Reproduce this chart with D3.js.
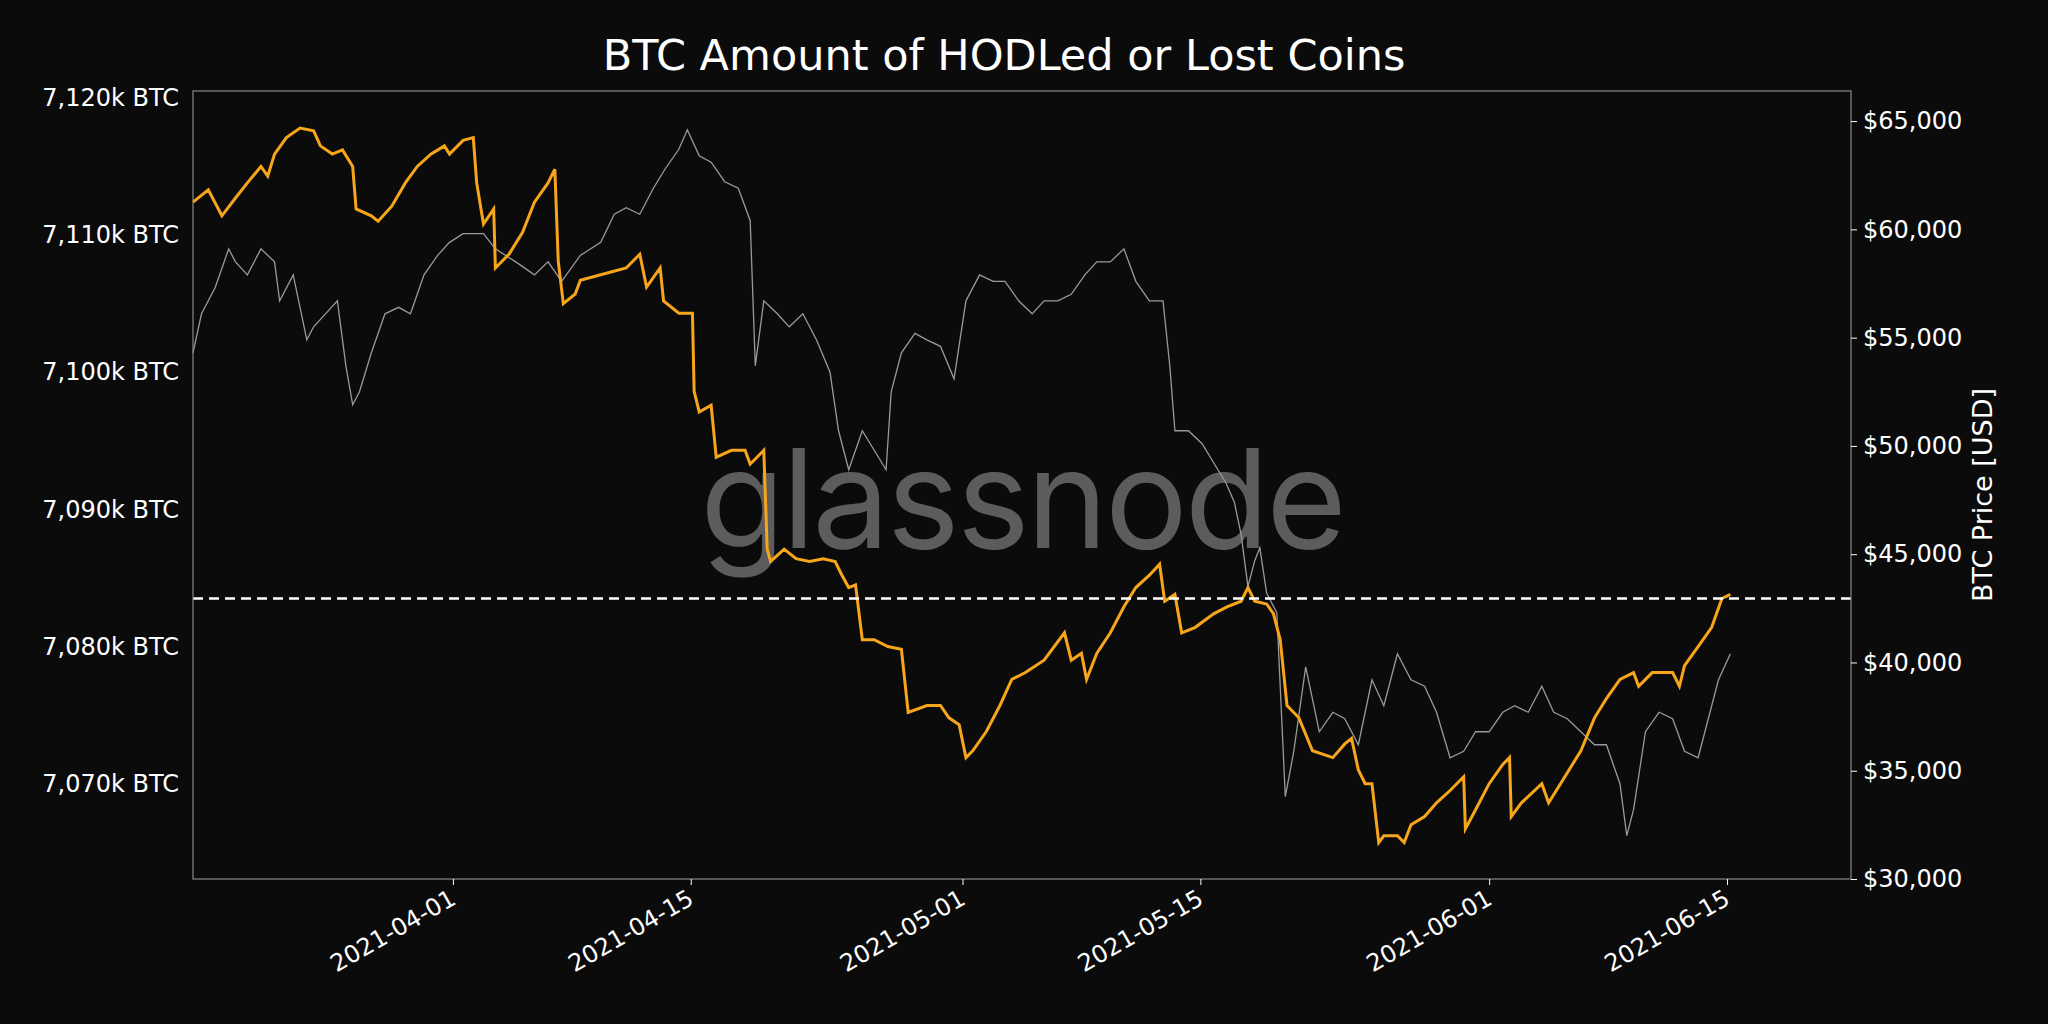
<!DOCTYPE html>
<html><head><meta charset="utf-8">
<script src="https://cdn.jsdelivr.net/npm/d3@7"></script>
<style>body{margin:0;background:#0b0b0b}</style></head>
<body><svg id="c" width="2048" height="1024"></svg>
<script>
// days relative to 2021-04-01, values in thousand BTC
const hodlDays=[-15.3,-14.4,-13.6,-12.8,-12.1,-11.3,-10.9,-10.5,-9.8,-9.0,-8.2,-7.8,-7.1,-6.5,-5.9,-5.7,-4.8,-4.4,-3.6,-2.8,-2.1,-1.3,-0.5,-0.2,0.6,1.2,1.4,1.8,2.4,2.5,3.3,4.1,4.8,5.6,6.0,6.2,6.5,7.2,7.5,8.7,10.2,11.0,11.4,12.2,12.4,13.3,14.1,14.2,14.5,15.2,15.5,16.4,17.2,17.5,17.9,18.3,18.5,18.7,19.5,20.2,21.0,21.8,22.5,22.9,23.3,23.7,24.1,24.8,25.6,26.4,26.8,27.9,28.7,29.2,29.8,30.2,30.6,31.4,32.2,32.9,33.7,34.8,36.0,36.4,37.0,37.3,37.9,38.7,39.5,40.2,41.0,41.6,41.9,42.5,42.9,43.7,44.8,45.6,46.4,46.8,47.2,47.9,48.3,48.7,49.1,49.8,50.6,51.8,52.5,52.9,53.3,53.7,54.1,54.5,54.8,55.6,56.0,56.4,57.2,57.9,58.7,59.5,59.6,60.2,61.0,61.8,62.2,62.3,62.9,64.1,64.5,65.2,66.4,67.2,67.9,68.7,69.5,69.8,70.6,71.8,72.2,72.5,73.3,74.1,74.7,75.2];
const hodlValues=[7112.4,7113.3,7111.4,7112.7,7113.8,7115.0,7114.3,7115.9,7117.1,7117.8,7117.6,7116.5,7115.9,7116.2,7115.0,7111.9,7111.4,7111.0,7112.1,7113.8,7115.0,7115.9,7116.5,7115.9,7116.9,7117.1,7113.8,7110.8,7111.9,7107.6,7108.6,7110.2,7112.4,7113.8,7114.8,7108.1,7105.0,7105.7,7106.7,7107.1,7107.6,7108.6,7106.2,7107.6,7105.2,7104.3,7104.3,7098.6,7097.1,7097.6,7093.8,7094.3,7094.3,7093.3,7093.8,7094.3,7087.1,7086.2,7087.1,7086.4,7086.2,7086.4,7086.2,7085.2,7084.3,7084.5,7080.5,7080.5,7080.0,7079.8,7075.2,7075.7,7075.7,7074.8,7074.3,7071.9,7072.4,7073.8,7075.7,7077.6,7078.1,7079.0,7081.0,7079.0,7079.5,7077.6,7079.5,7081.0,7082.9,7084.3,7085.2,7086.0,7083.3,7083.8,7081.0,7081.4,7082.4,7082.9,7083.3,7084.3,7083.3,7083.1,7082.4,7080.5,7075.7,7074.8,7072.4,7071.9,7072.9,7073.3,7071.0,7070.0,7070.0,7065.7,7066.2,7066.2,7065.7,7067.0,7067.6,7068.6,7069.5,7070.5,7066.7,7068.1,7070.0,7071.4,7071.9,7067.6,7068.6,7070.0,7068.6,7070.0,7072.4,7074.8,7076.2,7077.6,7078.1,7077.1,7078.1,7078.1,7077.1,7078.6,7080.0,7081.4,7083.5,7083.8];
// price in thousand USD
const priceDays=[-15.3,-14.8,-14.0,-13.2,-12.8,-12.1,-11.3,-10.5,-10.2,-9.4,-8.6,-8.2,-7.5,-6.8,-6.3,-5.9,-5.5,-4.8,-4.0,-3.2,-2.5,-1.7,-0.9,-0.2,0.6,1.8,2.5,3.7,4.8,5.6,6.4,7.5,8.7,9.5,10.2,11.0,11.8,12.5,13.3,13.8,14.5,15.2,16.0,16.8,17.5,17.8,18.3,19.1,19.8,20.6,21.4,22.2,22.7,23.3,24.1,24.8,25.5,25.8,26.4,27.2,27.9,28.7,29.5,30.2,31.0,31.8,32.5,33.3,34.1,34.8,35.6,36.4,37.2,37.9,38.7,39.5,40.2,41.0,41.8,42.2,42.5,43.3,44.1,44.8,45.5,46.0,46.4,46.8,47.2,47.5,47.9,48.5,49.0,49.5,50.2,51.0,51.8,52.5,53.3,54.1,54.8,55.6,56.4,57.2,57.9,58.7,59.5,60.2,61.0,61.8,62.5,63.3,64.1,64.8,65.6,66.4,67.2,67.9,68.7,69.1,69.5,70.2,71.0,71.8,72.5,73.3,74.1,74.5,75.2];
const priceValues=[54.3,56.1,57.3,59.1,58.5,57.9,59.1,58.5,56.7,57.9,54.9,55.5,56.1,56.7,53.7,51.9,52.5,54.3,56.1,56.4,56.1,57.9,58.8,59.4,59.8,59.8,59.1,58.5,57.9,58.5,57.6,58.8,59.4,60.7,61.0,60.7,61.9,62.8,63.7,64.6,63.4,63.1,62.2,61.9,60.4,53.7,56.7,56.1,55.5,56.1,54.9,53.4,50.7,48.9,50.7,49.8,48.9,52.5,54.3,55.2,54.9,54.6,53.1,56.7,57.9,57.6,57.6,56.7,56.1,56.7,56.7,57.0,57.9,58.5,58.5,59.1,57.6,56.7,56.7,53.7,50.7,50.7,50.1,49.2,48.3,47.4,45.9,43.5,44.7,45.3,43.2,42.3,33.8,35.9,39.8,36.8,37.7,37.4,36.2,39.2,38.0,40.4,39.2,38.9,37.7,35.6,35.9,36.8,36.8,37.7,38.0,37.7,38.9,37.7,37.4,36.8,36.2,36.2,34.4,32.0,33.2,36.8,37.7,37.4,35.9,35.6,38.0,39.2,40.4];
const leftTicks=[7070,7080,7090,7100,7110,7120];
const rightTicks=[30,35,40,45,50,55,60,65];
const dateTicks=["2021-04-01","2021-04-15","2021-05-01","2021-05-15","2021-06-01","2021-06-15"];
const refLine=7083.5;

const svg=d3.select("#c");
const W=2048,H=1024,L=193,R=1851,T=91,B=879;
svg.append("rect").attr("width",W).attr("height",H).attr("fill","#0b0b0b");
const base=new Date(Date.UTC(2021,3,1));
const dd=d=>new Date(base.getTime()+d*864e5);
const x=d3.scaleUtc().domain([dd(-15.3),dd(82.3)]).range([L,R]);
const y=d3.scaleLinear().domain([7063.05,7120.5]).range([B,T]);
const y2=d3.scaleLinear().domain([30,66.39]).range([B,T]);
const font="DejaVu Sans";

svg.append("text").attr("x",W/2-20).attr("y",70).attr("text-anchor","middle").attr("fill","#fff")
 .attr("font-family",font).attr("font-size",43).text("BTC Amount of HODLed or Lost Coins");
svg.append("text").attr("x",1022).attr("y",548).attr("text-anchor","middle").attr("fill","#5c5c5c")
 .attr("font-family","Inter, DejaVu Sans").attr("font-size",138).attr("font-weight",400).attr("letter-spacing",-3).text("glassnode");

const line=(xs,ys,sy)=>d3.line().x((d,i)=>x(dd(xs[i]))).y(d=>sy(d))(ys);
svg.append("path").attr("d",line(priceDays,priceValues,y2)).attr("fill","none").attr("stroke","#9a9a9a").attr("stroke-width",1.3);
svg.append("path").attr("d",line(hodlDays,hodlValues,y)).attr("fill","none").attr("stroke","#f7a51b").attr("stroke-width",3);
svg.append("line").attr("x1",L).attr("x2",R).attr("y1",y(refLine)).attr("y2",y(refLine))
 .attr("stroke","#fff").attr("stroke-width",2.5).attr("stroke-dasharray","10,6");

svg.append("rect").attr("x",L).attr("y",T).attr("width",R-L).attr("height",B-T).attr("fill","none").attr("stroke","#888").attr("stroke-width",1.2);

const lg=svg.append("g").attr("transform",`translate(${L},0)`)
 .call(d3.axisLeft(y).tickValues(leftTicks).tickSize(0).tickFormat(d=>d3.format(",")(d)+"k BTC"));
const rg=svg.append("g").attr("transform",`translate(${R},0)`)
 .call(d3.axisRight(y2).tickValues(rightTicks).tickSize(6).tickFormat(d=>"$"+d3.format(",")(d*1000)));
const bg=svg.append("g").attr("transform",`translate(0,${B})`)
 .call(d3.axisBottom(x).tickValues(dateTicks.map(s=>new Date(s+"T00:00:00Z"))).tickSize(6).tickFormat(d3.utcFormat("%Y-%m-%d")));
[lg,rg,bg].forEach(g=>{g.select(".domain").remove();g.selectAll("line").attr("stroke","#fff");
 g.selectAll("text").attr("fill","#fff").attr("font-family",font).attr("font-size",24);});
lg.selectAll("text").attr("x",-14);
rg.selectAll("text").attr("x",12);
bg.selectAll("text").attr("text-anchor","end").attr("dy",0).attr("y",0)
 .attr("transform","translate(4,24) rotate(-30)");
svg.append("text").attr("transform",`translate(1992,${(T+B)/2+10}) rotate(-90)`).attr("text-anchor","middle")
 .attr("fill","#fff").attr("font-family",font).attr("font-size",27).text("BTC Price [USD]");
</script></body></html>
